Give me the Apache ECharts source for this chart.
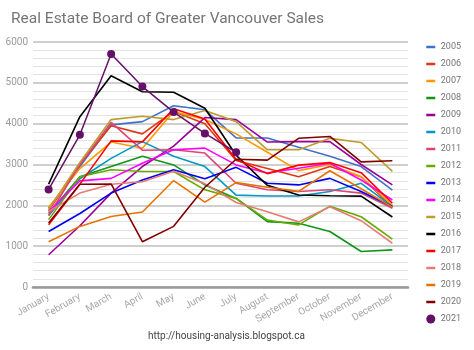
<!DOCTYPE html>
<html>
<head>
<meta charset="utf-8">
<script src="https://cdn.jsdelivr.net/npm/echarts@6/dist/echarts.min.js"></script>
<style>
  html, body { margin: 0; padding: 0; background: #fff; }
  #chart { width: 474px; height: 350px; }
</style>
</head>
<body>
<div id="chart"></div>
<script>
var months = ['January', 'February', 'March', 'April', 'May', 'June', 'July',
  'August', 'September', 'October', 'November', 'December'];

var s2005 = [1930, 2950, 3970, 4050, 4440, 4340, 3650, 3650, 3420, 3200, 2950, 2370];
var s2006 = [1870, 3000, 3950, 3750, 4300, 4000, 3100, 2900, 2700, 2950, 2700, 1950];
var s2007 = [1950, 2900, 3550, 3400, 4300, 4100, 3750, 3300, 2850, 3000, 2700, 2000];
var s2008 = [1800, 2700, 2950, 3200, 2990, 2500, 2170, 1600, 1560, 1360, 870, 910];
var s2009 = [790, 1500, 2300, 2950, 3450, 4150, 4100, 3550, 3560, 3560, 3000, 2500];
var s2010 = [1750, 2650, 3150, 3560, 3200, 2950, 2250, 2230, 2230, 2340, 2540, 1970];
var s2011 = [1750, 3000, 4030, 3350, 3360, 3280, 2540, 2380, 2340, 2380, 2300, 1930];
var s2012 = [1650, 2700, 2870, 2830, 2830, 2380, 2170, 1640, 1520, 1980, 1720, 1170];
var s2013 = [1360, 1800, 2300, 2620, 2870, 2650, 2930, 2540, 2500, 2660, 2340, 1970];
var s2014 = [1850, 2600, 2660, 3030, 3360, 3400, 2990, 2790, 2910, 3030, 2620, 2130];
var s2015 = [1900, 3050, 4100, 4180, 4100, 4320, 4050, 3360, 3360, 3640, 3540, 2830];
var s2016 = [2519, 4172, 5173, 4781, 4769, 4378, 3226, 2489, 2253, 2233, 2226, 1714];
var s2017 = [1523, 2519, 3579, 3553, 4364, 4115, 3122, 2777, 2985, 3047, 2800, 2050];
var s2018 = [1850, 2300, 2517, 2579, 2833, 2531, 2070, 1842, 1595, 1966, 1624, 1072];
var s2019 = [1107, 1484, 1727, 1838, 2607, 2077, 2557, 2443, 2341, 2847, 2406, 1956];
var s2020 = [1570, 2517, 2524, 1109, 1485, 2443, 3128, 3106, 3642, 3687, 3064, 3093];
var s2021 = [2389, 3727, 5708, 4908, 4283, 3762, 3297];

var years = ['2005', '2006', '2007', '2008', '2009', '2010', '2011', '2012', '2013',
  '2014', '2015', '2016', '2017', '2018', '2019', '2020', '2021'];
var values = [s2005, s2006, s2007, s2008, s2009, s2010, s2011, s2012, s2013,
  s2014, s2015, s2016, s2017, s2018, s2019, s2020, s2021];
var colors = ['#3f73c8', '#dc3912', '#ff9900', '#109618', '#990099', '#0099c6', '#dd4477',
  '#66aa00', '#0000ee', '#ff00ff', '#bf9b30', '#000000', '#ff0000', '#e67c73',
  '#e67300', '#800000', '#651067'];

// short thick bar for the legend, padded so it sits in the middle of the box
var barIcon = 'path://M0,0h0.01v0.01h-0.01z M0,3.6h10v2.8h-10z M0,10h0.01v0.01h-0.01z';

var chart = echarts.init(document.getElementById('chart'));

var series = years.map(function (y, i) {
  var last = y === '2021';
  return {
    name: y,
    type: 'line',
    data: values[i],
    color: colors[i],
    symbol: last ? 'circle' : 'none',
    symbolSize: 8,
    showSymbol: last,
    lineStyle: { width: last ? 1.5 : 1.6, color: colors[i] },
    itemStyle: { color: colors[i] },
    animation: false
  };
});

chart.setOption({
  backgroundColor: '#fff',
  title: {
    text: 'Real Estate Board of Greater Vancouver Sales',
    left: 6,
    top: 6,
    textStyle: {
      color: '#757575',
      fontSize: 15.5,
      fontWeight: 'normal',
      fontFamily: 'Roboto'
    }
  },
  legend: {
    orient: 'vertical',
    right: 8,
    top: 36,
    itemWidth: 10,
    itemHeight: 9,
    itemGap: 5,
    textStyle: { color: '#757575', fontSize: 9, fontFamily: 'Roboto', lineHeight: 12 },
    data: years.map(function (y) {
      return { name: y, icon: y === '2021' ? 'circle' : barIcon };
    })
  },
  grid: { left: 33, right: 66, top: 42, bottom: 63 },
  xAxis: {
    type: 'category',
    data: months,
    boundaryGap: true,
    axisTick: { show: false },
    axisLine: { show: true, lineStyle: { color: '#999', width: 2.5 } },
    axisLabel: {
      interval: 0,
      rotate: 30,
      margin: 9,
      color: '#a8a8a8',
      fontSize: 10,
      fontFamily: 'Roboto'
    }
  },
  yAxis: {
    type: 'value',
    min: 0,
    max: 6000,
    interval: 1000,
    axisLine: { show: false },
    axisTick: { show: false },
    axisLabel: {
      color: '#9a9a9a',
      fontSize: 10,
      fontFamily: 'Roboto',
      margin: 5,
      formatter: function (v) { return String(v); }
    },
    splitLine: { show: true, lineStyle: { color: '#cfcfcf', width: 2 } },
    minorTick: { show: false, splitNumber: 5 },
    minorSplitLine: { show: true, lineStyle: { color: '#e4e4e4', width: 1 } }
  },
  graphic: [{
    type: 'text',
    left: 148,
    top: 331,
    style: {
      text: 'http://housing-analysis.blogspot.ca',
      fill: '#444',
      fontSize: 10,
      fontFamily: 'Roboto'
    }
  }],
  series: series
});
</script>
</body>
</html>
